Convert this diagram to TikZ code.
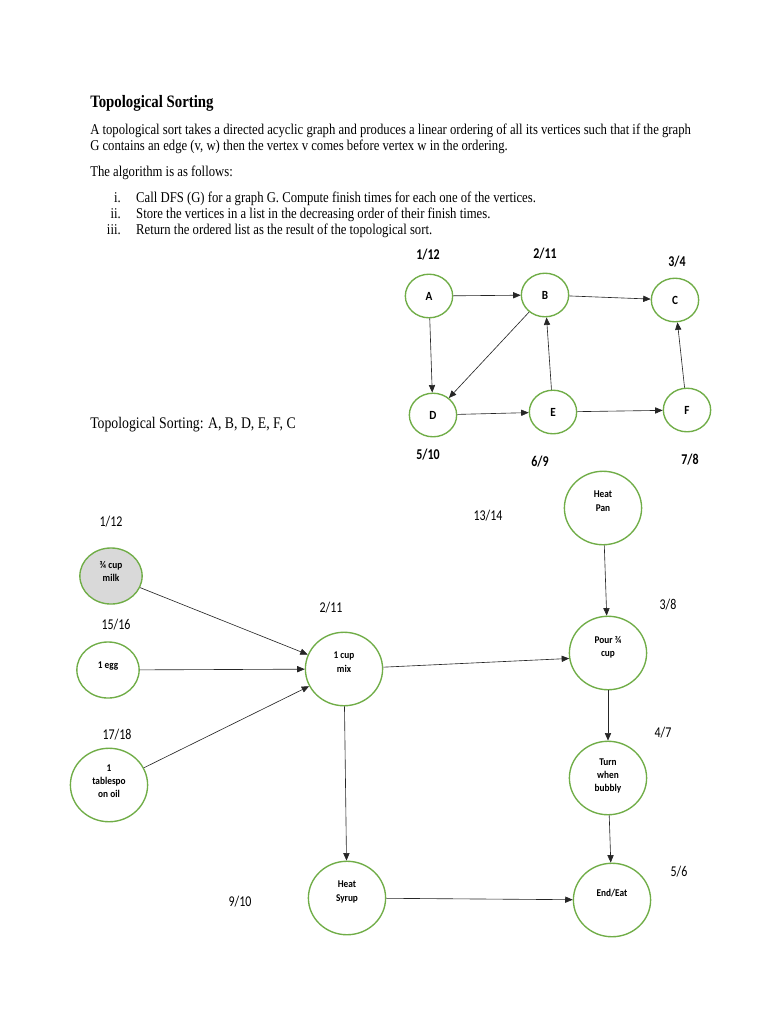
\documentclass[tikz,border=0pt]{standalone}
\usepackage{fontspec}
\usetikzlibrary{arrows.meta,shapes.geometric}
\newfontfamily\bodyfont[FakeStretch=0.85]{Liberation Serif}
\newfontfamily\lblfont[FakeStretch=0.8]{Carlito}
\newfontfamily\vtxfont[FakeStretch=0.9]{Carlito}
\definecolor{ringgreen}{RGB}{112,173,71}
\definecolor{milkgray}{RGB}{217,217,217}

\tikzset{
  vtx/.style={ellipse, draw=ringgreen, line width=1.1pt, fill=white,
    minimum width=38pt, minimum height=35pt, inner sep=0pt,
    font=\vtxfont\fontsize{10}{11}\selectfont\bfseries},
  task/.style={vtx, minimum width=62pt, minimum height=59pt, align=center,
    text depth=11pt, font=\vtxfont\fontsize{8.3}{10.5}\selectfont\bfseries},
  smalltask/.style={task, minimum width=50pt, minimum height=45pt, text depth=8pt},
  edge/.style={-{Triangle[length=6pt,width=5pt]}, line width=0.5pt, black!85},
  stamp/.style={font=\lblfont\fontsize{12}{14}\selectfont},
  boldstamp/.style={font=\lblfont\fontsize{12}{14}\selectfont\bfseries},
  body/.style={anchor=base west, inner sep=0pt, font=\bodyfont\fontsize{12}{14}\selectfont}
}

\begin{document}
\begin{tikzpicture}[x=0.2822mm,y=-0.2822mm]
\fill [white] (0,0) rectangle (768,1024);
\useasboundingbox (0,0) rectangle (768,1024);

% text
\node [body, font=\bodyfont\fontsize{14}{16}\selectfont\bfseries] (title) at (90,107) {Topological Sorting};
\node [body] (par1) at (90,134) {A topological sort takes a directed acyclic graph and produces a linear ordering of all its vertices such that if the graph};
\node [body] (par2) at (90,150) {G contains an edge (v, w) then the vertex v comes before vertex w in the ordering.};
\node [body] (algo) at (90,176) {The algorithm is as follows:};
\node [body, anchor=base east] (n1) at (121,202) {i.};
\node [body, anchor=base east] (n2) at (121,218) {ii.};
\node [body, anchor=base east] (n3) at (121,234) {iii.};
\node [body] (s1) at (136,202) {Call DFS (G) for a graph G. Compute finish times for each one of the vertices.};
\node [body] (s2) at (136,218) {Store the vertices in a list in the decreasing order of their finish times.};
\node [body] (s3) at (136,234) {Return the ordered list as the result of the topological sort.};
\node [body, font=\bodyfont\fontsize{13}{15}\selectfont] (order) at (90,428) {Topological Sorting: A, B, D, E, F, C};

% first graph
\node [vtx] (A) at (429,296) {A};
\node [vtx] (B) at (545,295) {B};
\node [vtx] (C) at (675,300) {C};
\node [vtx] (D) at (433,415) {D};
\node [vtx] (E) at (553,412) {E};
\node [vtx] (F) at (687,410) {F};
\node [boldstamp] (tA) at (428,255) {1/12};
\node [boldstamp] (tB) at (545,254) {2/11};
\node [boldstamp] (tC) at (677,262) {3/4};
\node [boldstamp] (tD) at (428,455) {5/10};
\node [boldstamp] (tE) at (540,462) {6/9};
\node [boldstamp] (tF) at (690,460) {7/8};
\draw [edge] (A) -- (B);
\draw [edge] (B) -- (C);
\draw [edge] (A) -- (D);
\draw [edge] (B) -- (D);
\draw [edge] (D) -- (E);
\draw [edge] (E) -- (B);
\draw [edge] (E) -- (F);
\draw [edge] (F) -- (C);

% pancakes
\node [smalltask, fill=milkgray] (milk) at (111,576) {¾ cup\\milk};
\node [smalltask] (egg) at (108,670) {1 egg};
\node [task, text depth=6pt] (oil) at (109,785) {1\\tablespo\\on oil};
\node [task] (mix) at (344,669) {1 cup\\mix};
\node [task] (pan) at (603,508) {Heat\\Pan};
\node [task] (pour) at (608,653) {Pour ¾\\cup};
\node [task, text depth=4pt] (turn) at (608,778) {Turn\\when\\bubbly};
\node [task] (syrup) at (347,898) {Heat\\Syrup};
\node [task] (eat) at (612,900) {End/Eat};
\node [stamp] (tmilk) at (111,522) {1/12};
\node [stamp] (tegg) at (116,625) {15/16};
\node [stamp] (toil) at (117,735) {17/18};
\node [stamp] (tmix) at (331,608) {2/11};
\node [stamp] (tpan) at (488,516) {13/14};
\node [stamp] (tpour) at (668,605) {3/8};
\node [stamp] (tturn) at (663,733) {4/7};
\node [stamp] (teat) at (679,872) {5/6};
\node [stamp] (tsyrup) at (240,902) {9/10};
\draw [edge] (milk) -- (mix);
\draw [edge] (egg) -- (mix);
\draw [edge] (oil) -- (mix);
\draw [edge] (mix) -- (pour.188);
\draw [edge] (mix) -- (syrup);
\draw [edge] (pan) -- (pour);
\draw [edge] (pour) -- (turn);
\draw [edge] (turn) -- (eat);
\draw [edge] (syrup) -- (eat);
\end{tikzpicture}
\end{document}
